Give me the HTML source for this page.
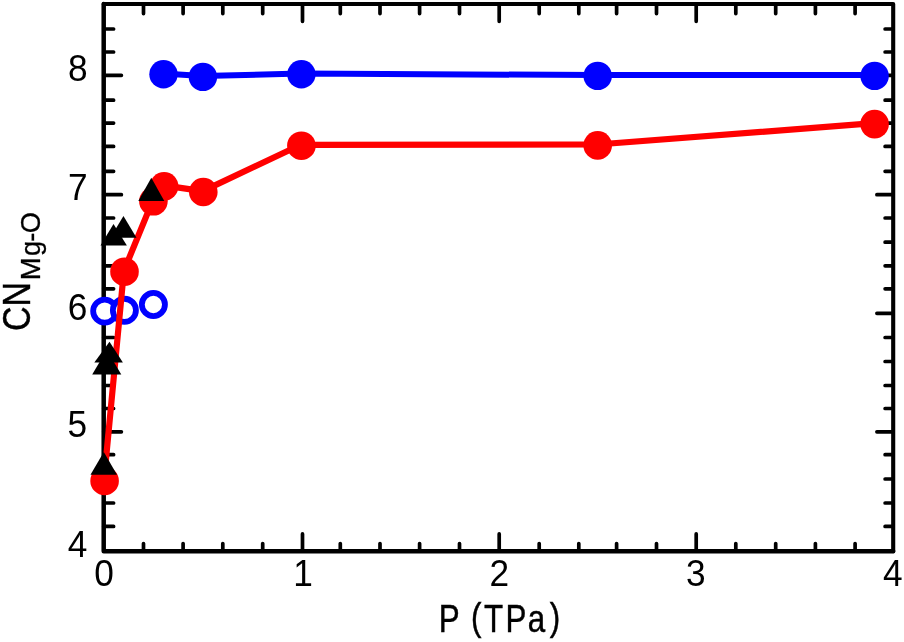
<!DOCTYPE html>
<html lang="en"><head><meta charset="utf-8"><title>CN Mg-O vs P (TPa)</title>
<style>html,body{margin:0;padding:0;background:#fff}body{width:904px;height:642px;overflow:hidden}svg{display:block}</style>
</head><body>
<svg width="904" height="642" viewBox="0 0 904 642">
<rect width="904" height="642" fill="#fff"/>
<g fill="none" stroke="#000" stroke-linecap="round" stroke-linejoin="round">
<path d="M103.7 4.0V551.2H893.2" stroke-width="4.5"/><path d="M103.7 4.0H893.2V551.2" stroke-width="4.1"/>
<path d="M143.5 551.2V543.6M143.5 4.0V13.6M183.1 551.2V543.6M183.1 4.0V13.6M222.8 551.2V543.6M222.8 4.0V13.6M262.7 551.2V543.6M262.7 4.0V13.6M302.5 551.2V533.9000000000001M302.5 4.0V21.3M340.3 551.2V543.6M340.3 4.0V13.6M380.0 551.2V543.6M380.0 4.0V13.6M419.6 551.2V543.6M419.6 4.0V13.6M459.5 551.2V543.6M459.5 4.0V13.6M499.2 551.2V533.9000000000001M499.2 4.0V21.3M539.2 551.2V543.6M539.2 4.0V13.6M578.8 551.2V543.6M578.8 4.0V13.6M616.6 551.2V543.6M616.6 4.0V13.6M656.5 551.2V543.6M656.5 4.0V13.6M696.2 551.2V533.9000000000001M696.2 4.0V21.3M735.8 551.2V543.6M735.8 4.0V13.6M775.7 551.2V543.6M775.7 4.0V13.6M815.4 551.2V543.6M815.4 4.0V13.6M855.1 551.2V543.6M855.1 4.0V13.6M103.7 29.0H113.60000000000001M893.2 29.0H885.1M103.7 52.0H113.60000000000001M893.2 52.0H885.1M103.7 75.3H121.4M893.2 75.3H876.9000000000001M103.7 100.2H113.60000000000001M893.2 100.2H885.1M103.7 123.1H113.60000000000001M893.2 123.1H885.1M103.7 146.4H113.60000000000001M893.2 146.4H885.1M103.7 171.3H113.60000000000001M893.2 171.3H885.1M103.7 194.7H121.4M893.2 194.7H876.9000000000001M103.7 218.0H113.60000000000001M893.2 218.0H885.1M103.7 242.2H113.60000000000001M893.2 242.2H885.1M103.7 265.8H113.60000000000001M893.2 265.8H885.1M103.7 288.8H113.60000000000001M893.2 288.8H885.1M103.7 313.3H121.4M893.2 313.3H876.9000000000001M103.7 337.5H113.60000000000001M893.2 337.5H885.1M103.7 361.5H113.60000000000001M893.2 361.5H885.1M103.7 385.5H113.60000000000001M893.2 385.5H885.1M103.7 408.5H113.60000000000001M893.2 408.5H885.1M103.7 431.8H121.4M893.2 431.8H876.9000000000001M103.7 454.7H113.60000000000001M893.2 454.7H885.1M103.7 479.0H113.60000000000001M893.2 479.0H885.1M103.7 503.0H113.60000000000001M893.2 503.0H885.1M103.7 526.4H113.60000000000001M893.2 526.4H885.1" stroke-width="3.7"/>
</g>
<g fill="#fff" stroke="#00f" stroke-width="5.8">
<circle cx="104.7" cy="311.1" r="11.55"/><circle cx="124.4" cy="310.3" r="11.55"/><circle cx="153.4" cy="304.5" r="11.55"/>
</g>
<polyline points="163.5,74.2 202.9,76.9 301.4,74.3 597.7,75.9 874.6,75.9" transform="translate(-0.5 -0.8)" fill="none" stroke="#00f" stroke-width="6" stroke-linejoin="round"/>
<g fill="#00f"><circle cx="163.5" cy="74.2" r="14.2"/><circle cx="202.9" cy="76.9" r="14.2"/><circle cx="301.4" cy="74.3" r="14.2"/><circle cx="597.7" cy="75.9" r="14.2"/><circle cx="874.6" cy="75.9" r="14.2"/></g>
<polyline points="104.6,480.9 124.5,271.7 153.4,201.3 164.1,186.3 203.3,192.0 301.4,145.7 597.7,145.4 874.6,124.1" transform="translate(-0.6 -0.9)" fill="none" stroke="#f00" stroke-width="6.2" stroke-linejoin="round"/>
<g fill="#f00"><circle cx="104.6" cy="480.9" r="14.3"/><circle cx="124.5" cy="271.7" r="14.3"/><circle cx="153.4" cy="201.3" r="14.3"/><circle cx="164.1" cy="186.3" r="14.3"/><circle cx="203.3" cy="192.0" r="14.3"/><circle cx="301.4" cy="145.7" r="14.3"/><circle cx="597.7" cy="145.4" r="14.3"/><circle cx="874.6" cy="124.1" r="14.3"/></g>
<g fill="#000"><polygon points="100.5,245.5 126.9,245.5 113.5,223.9"/><polygon points="110.4,237.8 136.5,237.8 123.45,216.1"/><polygon points="138.3,200.9 164.3,200.9 151.3,177.8"/><polygon points="92.2,374.5 121.3,374.5 106.7,350.0"/><polygon points="94.3,362.6 122.9,362.6 109.5,341.8"/><polygon points="90.5,474.8 117.0,474.8 103.8,451.9"/></g>
<g font-family="'Liberation Sans', sans-serif" fill="#000" font-size="36.8" text-anchor="middle">
<text id="y8" textLength="19.6" lengthAdjust="spacingAndGlyphs" x="77.7" y="81.2">8</text>
<text id="y7" textLength="19.6" lengthAdjust="spacingAndGlyphs" x="77.7" y="200.1">7</text>
<text id="y6" textLength="19.6" lengthAdjust="spacingAndGlyphs" x="77.6" y="319.7">6</text>
<text id="y5" textLength="19.6" lengthAdjust="spacingAndGlyphs" x="77.4" y="437.2">5</text>
<text id="y4" textLength="19.6" lengthAdjust="spacingAndGlyphs" x="77.5" y="556.8">4</text>
<text id="x0" textLength="19.6" lengthAdjust="spacingAndGlyphs" x="104" y="585.5">0</text>
<text id="x1" textLength="19.6" lengthAdjust="spacingAndGlyphs" x="303" y="585.5">1</text>
<text id="x2" textLength="19.6" lengthAdjust="spacingAndGlyphs" x="499.2" y="585.5">2</text>
<text id="x3" textLength="19.6" lengthAdjust="spacingAndGlyphs" x="695.9" y="585.5">3</text>
<text id="x4" textLength="19.6" lengthAdjust="spacingAndGlyphs" x="892.8" y="585.5">4</text>
</g>
<g font-family="'Liberation Sans', sans-serif" fill="#000">
<text id="xl" stroke="#000" stroke-width="0.45" transform="translate(0 631.7) scale(0.81 1)" font-size="38.7" x="541.65 567.5 581.42 597.4 624.12 651.6 678.59" y="0 0 -1.3 0 0 0 -1.3">P (TPa)</text>
<g transform="translate(30 330) rotate(-90)">
<text id="cn" stroke="#000" stroke-width="0.4" transform="scale(0.86 1)" font-size="39.6" x="-1.3 27.4" y="0">CN</text>
<text id="sub" stroke="#000" stroke-width="0.3" font-size="27.3" x="49.73 73.91 88.35 96.89" y="9.7">Mg-O</text>
</g>
</g>
</svg>
</body></html>
